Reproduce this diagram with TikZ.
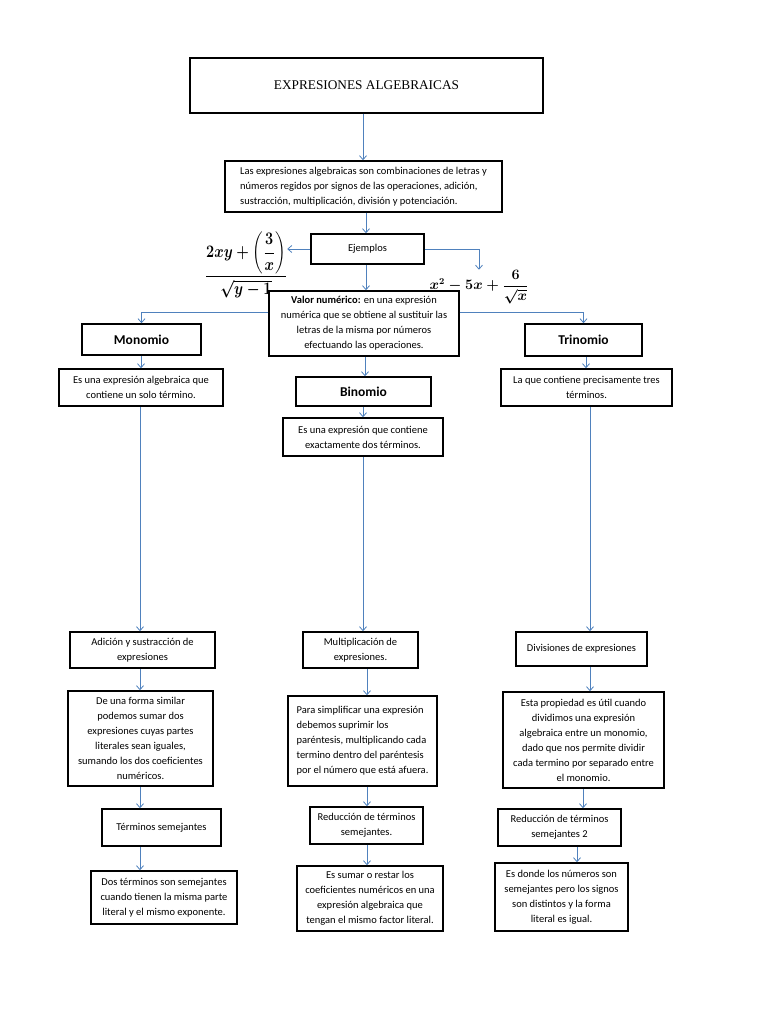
\documentclass[tikz,border=0pt]{standalone}
\usepackage{amsmath}
\usepackage{graphicx}
\usepackage{fontspec}
\setmainfont{Carlito}
\newfontfamily\titlefont{Liberation Serif}
\usetikzlibrary{arrows.meta}
\definecolor{linkblue}{RGB}{79,129,189}
\tikzset{
  box/.style={draw, line width=1.5pt, fill=white, align=center, inner sep=2pt,
    font=\fontsize{10.5}{15}\selectfont},
  headbox/.style={box, font=\fontsize{13.5}{16}\selectfont\bfseries},
  wh/.style 2 args={minimum width=#1pt, minimum height=#2pt},
  link/.style={draw=linkblue, line width=0.8pt, -{Straight Barb[length=4pt,width=7pt]}},
  formula/.style={inner sep=0pt, font=\fontsize{14}{17}\selectfont\boldmath}
}
\begin{document}
\begin{tikzpicture}[x=1pt,y=-1pt]
  \useasboundingbox (0,0) rectangle (768,1024);
  % examples
  \node[formula] (lform) at (246,265) {\scalebox{1}[1.22]{$\dfrac{2xy+\left(\dfrac{3}{x}\right)}{\sqrt{y-1}}$}};
  \node[formula, font=\fontsize{13.5}{16}\selectfont\boldmath] (rform) at (479,287) {$x^{2}-5x+\dfrac{6}{\sqrt{x}}$};
  % top
  \node[box, wh={353}{55}, font=\titlefont\fontsize{13.3}{16}\selectfont] (title) at (366.5,85.5) {EXPRESIONES ALGEBRAICAS};
  \node[box, wh={277}{51}, align=left] (desc) at (363.5,186.5) {Las expresiones algebraicas son combinaciones de letras y\\ números regidos por signos de las operaciones, adición,\\ sustracción, multiplicación, división y potenciación.};
  \node[box, wh={113}{30}] (ejem) at (367.5,249) {Ejemplos};
  \node[box, wh={190}{65}] (valor) at (364,323.5) {\textbf{Valor numérico:} en una expresión\\ numérica que se obtiene al sustituir las\\ letras de la misma por números\\ efectuando las operaciones.};
  % three kinds
  \node[headbox, wh={119}{31}] (mono) at (141.5,339.5) {Monomio};
  \node[box, wh={164}{37}] (monod) at (141,387.5) {Es una expresión algebraica que\\ contiene un solo término.};
  \node[headbox, wh={135}{29}] (bino) at (363.5,391.5) {Binomio};
  \node[box, wh={160}{38}] (binod) at (363,437) {Es una expresión que contiene\\ exactamente dos términos.};
  \node[headbox, wh={117}{32}] (trino) at (583.5,340) {Trinomio};
  \node[box, wh={171}{37}] (trinod) at (586.5,387.5) {La que contiene precisamente tres\\ términos.};
  % operations
  \node[box, wh={145}{36}] (adic) at (142.5,650) {Adición y sustracción de\\ expresiones};
  \node[box, wh={115}{36}] (mult) at (360.5,650) {Multiplicación de\\ expresiones.};
  \node[box, wh={131}{34}] (divi) at (581.5,649) {Divisiones de expresiones};
  \node[box, wh={145}{95}] (forma) at (140.5,738.5) {De una forma similar\\ podemos sumar dos\\ expresiones cuyas partes\\ literales sean iguales,\\ sumando los dos coeficientes\\ numéricos.};
  \node[box, wh={149}{90}, align=left] (para) at (362.5,741) {Para simplificar una expresión\\ debemos suprimir los\\ paréntesis, multiplicando cada\\ termino dentro del paréntesis\\ por el número que está afuera.};
  \node[box, wh={161}{96}] (esta) at (583.5,740) {Esta propiedad es útil cuando\\ dividimos una expresión\\ algebraica entre un monomio,\\ dado que nos permite dividir\\ cada termino por separado entre\\ el monomio.};
  % like terms
  \node[box, wh={119}{37}] (terms) at (161.5,827.5) {Términos semejantes};
  \node[box, wh={113}{37}] (reduc) at (366.5,825.5) {Reducción de términos\\ semejantes.};
  \node[box, wh={123}{37}] (reducb) at (559.5,827.5) {Reducción de términos\\ semejantes 2};
  \node[box, wh={146}{53}] (dos) at (164,897.5) {Dos términos son semejantes\\ cuando tienen la misma parte\\ literal y el mismo exponente.};
  \node[box, wh={146}{65}] (sumar) at (370,898.5) {Es sumar o restar los\\ coeficientes numéricos en una\\ expresión algebraica que\\ tengan el mismo factor literal.};
  \node[box, wh={133}{68}] (donde) at (561.5,897) {Es donde los números son\\ semejantes pero los signos\\ son distintos y la forma\\ literal es igual.};
  % vertical links
  \foreach \a/\b/\x in {title/desc/363, desc/ejem/366, ejem/valor/366, valor/bino/365,
      mono/monod/141, bino/binod/363, trino/trinod/586,
      monod/adic/140, binod/mult/363, trinod/divi/590,
      adic/forma/140, mult/para/367, divi/esta/590,
      forma/terms/140, para/reduc/367, esta/reducb/583,
      terms/dos/140, reduc/sumar/367, reducb/donde/577}
  {
    \draw[link] (\a.south -| \x,0) -- (\b.north -| \x,0);
  }
  \draw[link] (ejem.west) -- (lform.east |- ejem.west);
  \draw[link] (ejem.east) -| (rform.north);
  \draw[link] (valor.west |- 0,312) -| (mono.north);
  \draw[link] (valor.east |- 0,312) -| (trino.north);
\end{tikzpicture}
\end{document}
